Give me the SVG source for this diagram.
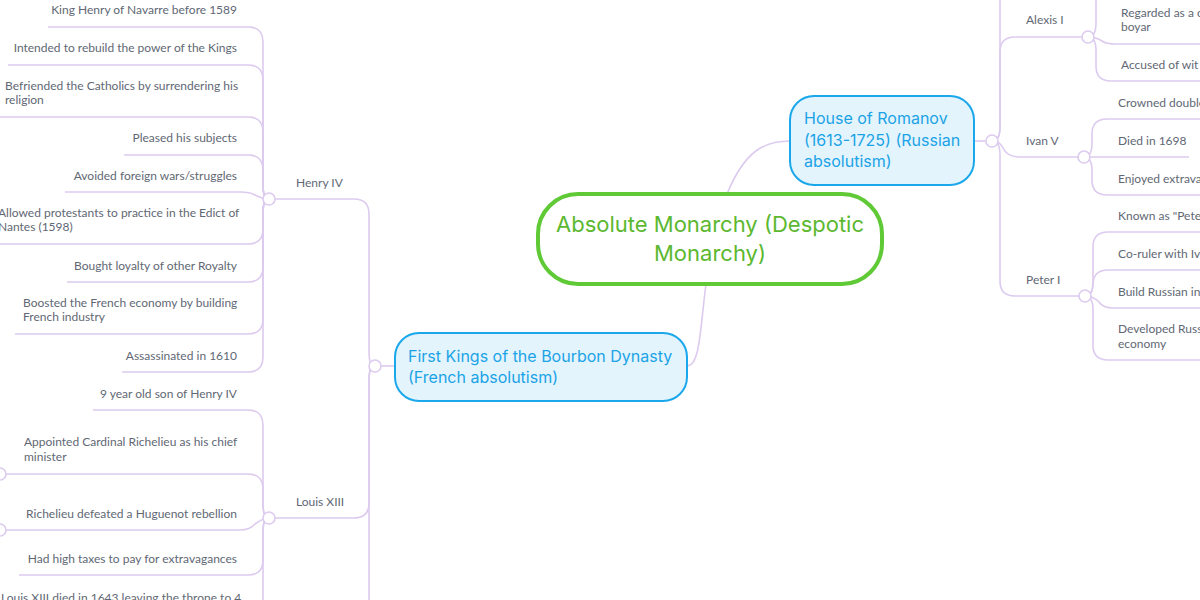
<svg xmlns="http://www.w3.org/2000/svg" width="1200" height="600" viewBox="0 0 1200 600">
<style>
.c{fill:none;stroke:#dccbef;stroke-width:1.6}
.d{fill:#fff;stroke:#dccbef;stroke-width:1.6}
.t{font-family:Lato,"Noto Sans",sans-serif;font-size:12px;fill:#5f6874}
.r{text-anchor:end}
.s{font-family:Inter,"Noto Sans",sans-serif;font-size:16px;fill:#1ba3e6}
</style>
<rect width="1200" height="600" fill="#fff"/>
<g id="connectors">
<path class="c" d="M727,194 C745,150 765,141 790,141"/>
<path class="c" d="M706,284 C700,330 700,366 687,366"/>
<path class="c" d="M395,366 H375"/>
<path class="c" d="M974,141 H992"/>
<path class="c" d="M375,366 Q369,366 369,352 V214 Q369,199 354,199 H269"/>
<path class="c" d="M375,366 Q369,366 369,380 V503 Q369,518 354,518 H269"/>
<path class="c" d="M375,366 Q369,366 369,380 V600"/>
<path class="c" d="M269,199 Q263,199 263,185 V42 Q263,27 248,27 H48"/>
<path class="c" d="M269,199 Q263,199 263,185 V80 Q263,65 248,65 H8"/>
<path class="c" d="M269,199 Q263,199 263,185 V132 Q263,117 248,117 H0"/>
<path class="c" d="M269,199 Q263,199 263,185 V170 Q263,155 248,155 H124"/>
<path class="c" d="M269,199 Q263,199 255,195 Q250,192 240,192 H65"/>
<path class="c" d="M269,199 Q263,199 263,213 V229 Q263,244 248,244 H0"/>
<path class="c" d="M269,199 Q263,199 263,213 V267 Q263,282 248,282 H67"/>
<path class="c" d="M269,199 Q263,199 263,213 V319 Q263,334 248,334 H15"/>
<path class="c" d="M269,199 Q263,199 263,213 V357 Q263,372 248,372 H122"/>
<path class="c" d="M269,518 Q263,518 263,504 V425 Q263,410 248,410 H93"/>
<path class="c" d="M269,518 Q263,518 263,504 V489 Q263,474 248,474 H6"/>
<path class="c" d="M269,518 Q263,518 255,524 Q250,530 240,530 H6"/>
<path class="c" d="M269,518 Q263,518 263,532 V560 Q263,575 248,575 H19"/>
<path class="c" d="M269,518 Q263,518 263,532 V600"/>
<path class="c" d="M992,141 Q1000,141 1000,127 V52 Q1000,37 1015,37 H1088"/>
<path class="c" d="M992,141 Q1000,141 1000,127 V0"/>
<path class="c" d="M992,141 Q1000,141 1003,148 Q1007,157 1020,157 H1084"/>
<path class="c" d="M992,141 Q1000,141 1000,155 V281 Q1000,296 1015,296 H1085"/>
<path class="c" d="M1088,37 Q1096,37 1096,23 V0"/>
<path class="c" d="M1088,37 Q1096,37 1102,41 Q1106,44 1116,44 H1200"/>
<path class="c" d="M1088,37 Q1096,37 1096,51 V66 Q1096,81 1111,81 H1200"/>
<path class="c" d="M1084,157 Q1092,157 1092,143 V134 Q1092,119 1107,119 H1200"/>
<path class="c" d="M1084,157 H1189"/>
<path class="c" d="M1084,157 Q1092,157 1092,171 V180 Q1092,195 1107,195 H1200"/>
<path class="c" d="M1085,296 Q1093,296 1093,282 V247 Q1093,232 1108,232 H1200"/>
<path class="c" d="M1085,296 Q1093,296 1093,282 V285 Q1093,270 1108,270 H1200"/>
<path class="c" d="M1085,296 Q1093,296 1099,302 Q1103,308 1113,308 H1200"/>
<path class="c" d="M1085,296 Q1093,296 1093,310 V345 Q1093,360 1108,360 H1200"/>
</g>
<g id="dots">
<circle class="d" cx="375" cy="366" r="6"/>
<circle class="d" cx="269" cy="199" r="6"/>
<circle class="d" cx="269" cy="518" r="6"/>
<circle class="d" cx="0" cy="474" r="6"/>
<circle class="d" cx="0" cy="530" r="6"/>
<circle class="d" cx="992" cy="141" r="6"/>
<circle class="d" cx="1088" cy="37" r="6"/>
<circle class="d" cx="1084" cy="157" r="6"/>
<circle class="d" cx="1085" cy="296" r="6"/>
</g>
<g id="root">
<rect x="538" y="194" width="344" height="90" rx="40" fill="#fff" stroke="#5fc936" stroke-width="4"/>
<text x="710" y="232" text-anchor="middle" font-family="Inter,'Noto Sans',sans-serif" font-size="22" fill="#5cb830">Absolute Monarchy (Despotic</text>
<text x="710" y="261" text-anchor="middle" font-family="Inter,'Noto Sans',sans-serif" font-size="22" fill="#5cb830">Monarchy)</text>
</g>
<g id="romanov">
<rect x="790" y="96" width="184" height="89" rx="24" fill="#e3f4fd" stroke="#1aa7ec" stroke-width="2"/>
<text class="s" x="804" y="124">House of Romanov</text>
<text class="s" x="804" y="146">(1613-1725) (Russian</text>
<text class="s" x="804" y="167">absolutism)</text>
</g>
<g id="bourbon">
<rect x="395" y="333" width="292" height="68" rx="24" fill="#e3f4fd" stroke="#1aa7ec" stroke-width="2"/>
<text class="s" x="408" y="362">First Kings of the Bourbon Dynasty</text>
<text class="s" x="408" y="383">(French absolutism)</text>
</g>
<g id="henry"><text class="t" x="296" y="187">Henry IV</text></g>
<g id="louis"><text class="t" x="296" y="506">Louis XIII</text></g>
<g id="henry-items">
<text class="t r" x="237" y="14">King Henry of Navarre before 1589</text>
<text class="t r" x="237" y="52">Intended to rebuild the power of the Kings</text>
<text class="t" x="5" y="90">Befriended the Catholics by surrendering his</text>
<text class="t" x="5" y="104">religion</text>
<text class="t r" x="237" y="142">Pleased his subjects</text>
<text class="t r" x="237" y="180">Avoided foreign wars/struggles</text>
<text class="t" x="-2" y="217">Allowed protestants to practice in the Edict of</text>
<text class="t" x="-2" y="231">Nantes (1598)</text>
<text class="t r" x="237" y="270">Bought loyalty of other Royalty</text>
<text class="t" x="23" y="307">Boosted the French economy by building</text>
<text class="t" x="23" y="321">French industry</text>
<text class="t r" x="237" y="360">Assassinated in 1610</text>
</g>
<g id="louis-items">
<text class="t r" x="237" y="398">9 year old son of Henry IV</text>
<text class="t" x="24" y="446">Appointed Cardinal Richelieu as his chief</text>
<text class="t" x="24" y="461">minister</text>
<text class="t r" x="237" y="518">Richelieu defeated a Huguenot rebellion</text>
<text class="t r" x="237" y="563">Had high taxes to pay for extravagances</text>
<text class="t" x="1" y="602">Louis XIII died in 1643 leaving the throne to 4</text>
</g>
<g id="russian">
<text class="t" x="1026" y="24">Alexis I</text>
<text class="t" x="1026" y="145">Ivan V</text>
<text class="t" x="1026" y="284">Peter I</text>
<text class="t" x="1121" y="17">Regarded as a c</text>
<text class="t" x="1121" y="31">boyar</text>
<text class="t" x="1121" y="69">Accused of wit</text>
<text class="t" x="1118" y="107">Crowned double</text>
<text class="t" x="1118" y="145">Died in 1698</text>
<text class="t" x="1118" y="183">Enjoyed extrava</text>
<text class="t" x="1118" y="220">Known as "Pete</text>
<text class="t" x="1118" y="258">Co-ruler with Iv</text>
<text class="t" x="1118" y="296">Build Russian in</text>
<text class="t" x="1118" y="333">Developed Russ</text>
<text class="t" x="1118" y="348">economy</text>
</g>
</svg>
